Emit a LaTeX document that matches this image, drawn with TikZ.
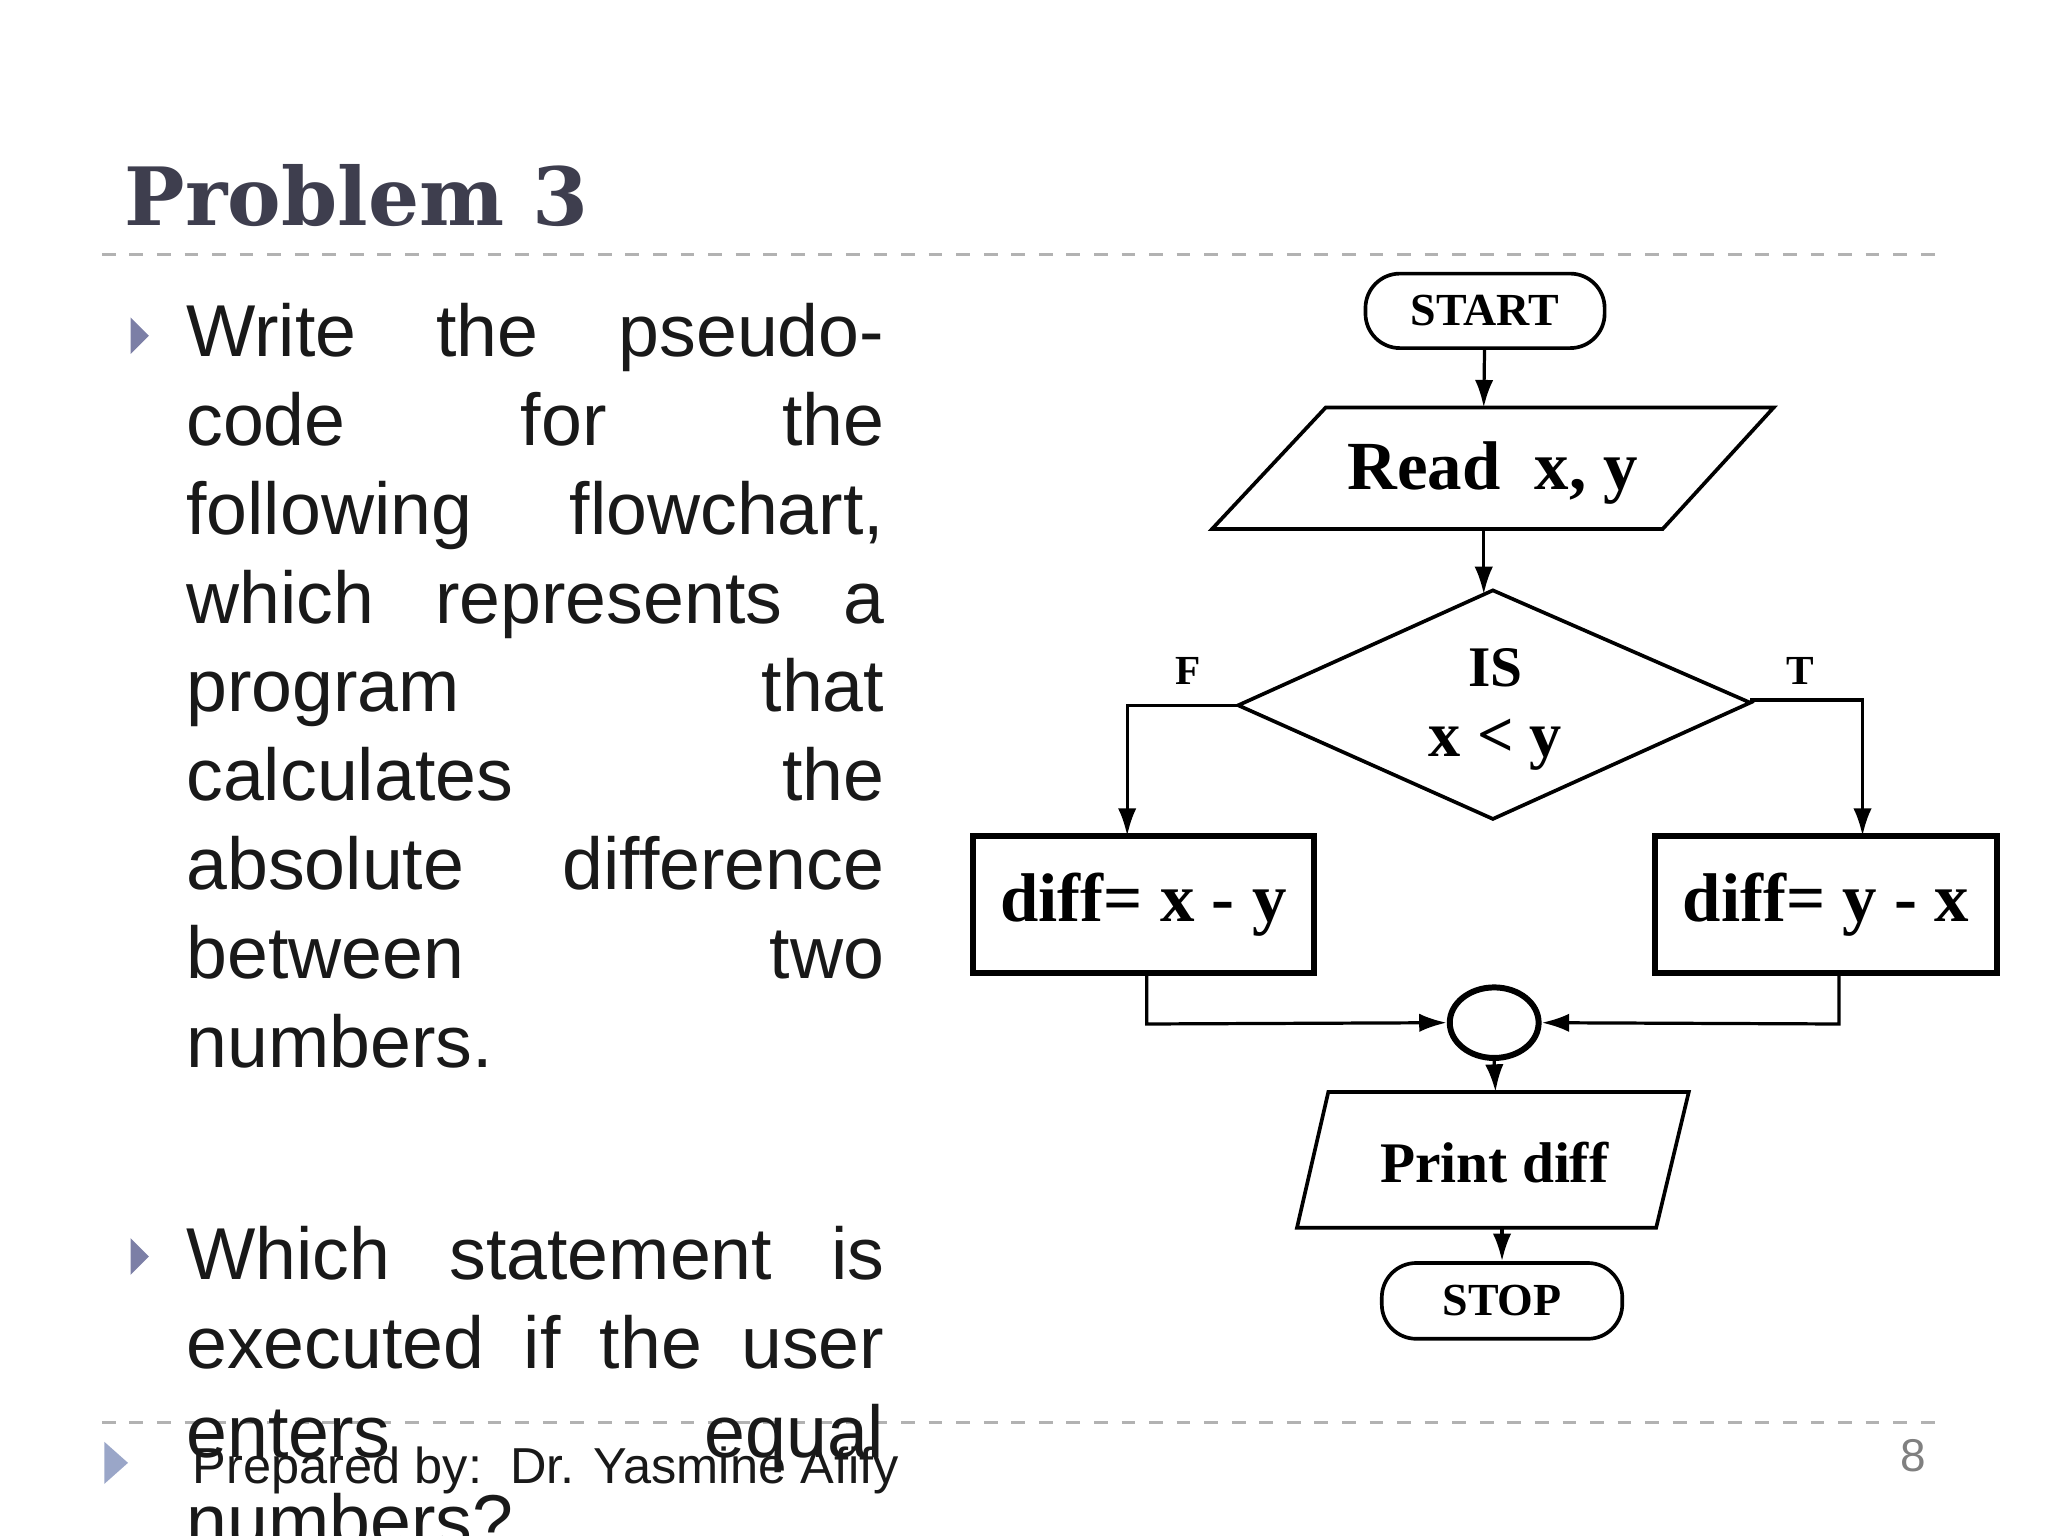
\documentclass[tikz,border=0pt]{standalone}
\usepackage{fontspec}
\setmainfont{Liberation Sans}
\newfontfamily\tnr{Liberation Serif}
\newfontfamily\slab{DejaVu Serif}
\usetikzlibrary{arrows.meta,shapes.geometric}
\definecolor{titlec}{HTML}{3E3E4E}
\definecolor{bulc}{HTML}{7C7FA6}
\definecolor{footc}{HTML}{9AA6C8}
\begin{document}
\begin{tikzpicture}[x=0.01cm,y=-0.01cm,
  fc/.style={draw,line width=0.8pt},
  fl/.style={line width=0.7pt},
  arr/.style={fl,-{Latex[length=6pt,width=4pt]}},
  bline/.style={anchor=base west,inner sep=0pt,font=\fontsize{16}{19}\selectfont,text=black!90},
  bul/.style={fill=bulc}]
\useasboundingbox (0,0) rectangle (1568,1176);
\clip (0,0) rectangle (1568,1176);
% title
\node[anchor=base west,inner sep=0pt,text=titlec,font=\slab\bfseries\fontsize{17.5}{20}\selectfont] (title) at (95,173) {Problem 3};
\draw[gray!60,dashed,line width=0.6pt] (78,195) -- (1490,195);
\draw[gray!60,dashed,line width=0.6pt] (78,1089) -- (1490,1089);
% bullets
\fill[bul] (100,243) -- (114,257) -- (100,271) -- cycle;
\fill[bul] (100,948) -- (114,962) -- (100,976) -- cycle;
\fill[footc] (80,1104) -- (98,1120) -- (80,1136) -- cycle;
% body text
\foreach \t [count=\i from 0] in {Write\hfill the\hfill pseudo-,code\hfill for\hfill the,following\hfill flowchart\hbox{,},which\hfill represents\hfill a,program\hfill that,calculates\hfill the,absolute\hfill difference,between\hfill two,numbers.\hfill}
  \node[bline] (l\i) at (142,{273+68*\i}) {\hbox to 5.34cm{\t}};
\foreach \t [count=\i from 0] in {Which\hfill statement\hfill is,executed\hfill if\hfill the\hfill user,enters\hfill equal,numbers?\hfill}
  \node[bline] (m\i) at (142,{980+68*\i}) {\hbox to 5.34cm{\t}};
% footer
\node[anchor=base west,inner sep=0pt,font=\fontsize{11}{13}\selectfont,text=black!90] (prep) at (147,1136) {Prepared by:\ \ Dr. Yasmine Afify};
\node[anchor=base,inner sep=0pt,font=\fontsize{10}{12}\selectfont,text=gray] (pg) at (1465,1127) {8};
% flowchart
\node[fc,rounded corners=7.5pt,minimum width=1.83cm,minimum height=0.57cm,font=\tnr\bfseries\fontsize{10}{12}\selectfont] (start) at (1137,238) {START};
\draw[fc] (1015,312) -- (1358,312) -- (1273,405) -- (928,405) -- cycle;
\node[font=\tnr\bfseries\fontsize{15}{18}\selectfont] (read) at (1143,362) {Read\ \ x, y};
\coordinate (readT) at (1136,312); \coordinate (readB) at (1136,405);
\draw[fc] (1143,452) -- (1340,538) -- (1143,627) -- (948,540) -- cycle;
\coordinate (dT) at (1136,455); \coordinate (dL) at (948,540); \coordinate (dR) at (1340,536);
\node[font=\tnr\bfseries\fontsize{12.5}{15}\selectfont] (is) at (1145,511) {IS};
\node[font=\tnr\bfseries\fontsize{14}{16}\selectfont] (xy) at (1145,570) {x < y};
\node[font=\tnr\bfseries\fontsize{9}{10}\selectfont] (F) at (910,514) {F};
\node[font=\tnr\bfseries\fontsize{9}{10}\selectfont] (T) at (1378,514) {T};
\node[draw,line width=1.3pt,minimum width=2.61cm,minimum height=1.05cm,inner sep=0pt,font=\tnr\bfseries\fontsize{15}{18}\selectfont] (bl) at (875.5,692.5) {diff= x - y};
\node[draw,line width=1.3pt,minimum width=2.62cm,minimum height=1.05cm,inner sep=0pt,font=\tnr\bfseries\fontsize{15}{18}\selectfont] (br) at (1398,692.5) {diff= y - x};
\draw[arr] (dL) -- (863,540) -- (863,640);
\draw[arr] (dR) -- (1426,536) -- (1426,640);
\node[draw,line width=1.3pt,ellipse,minimum width=0.68cm,minimum height=0.54cm,inner sep=0pt] (c) at (1144,783) {};
\draw[arr] (878,745) -- (878,784) -- (c.west);
\draw[arr] (1408,745) -- (1408,784) -- (c.east);
\draw[fc] (1017,836) -- (1293,836) -- (1268,940) -- (993,940) -- cycle;
\node[font=\tnr\bfseries\fontsize{12.5}{15}\selectfont] (print) at (1144,890) {Print diff};
\coordinate (pT) at (1145,836); \coordinate (pB) at (1150,940);
\node[fc,rounded corners=7.5pt,minimum width=1.84cm,minimum height=0.58cm,font=\tnr\bfseries\fontsize{10}{12}\selectfont] (stop) at (1150,996) {STOP};
\draw[arr] (start) -- (readT);
\draw[arr] (readB) -- (dT);
\draw[arr] (c.south) -- (pT);
\draw[arr] (pB) -- (stop.north);
\end{tikzpicture}
\end{document}
